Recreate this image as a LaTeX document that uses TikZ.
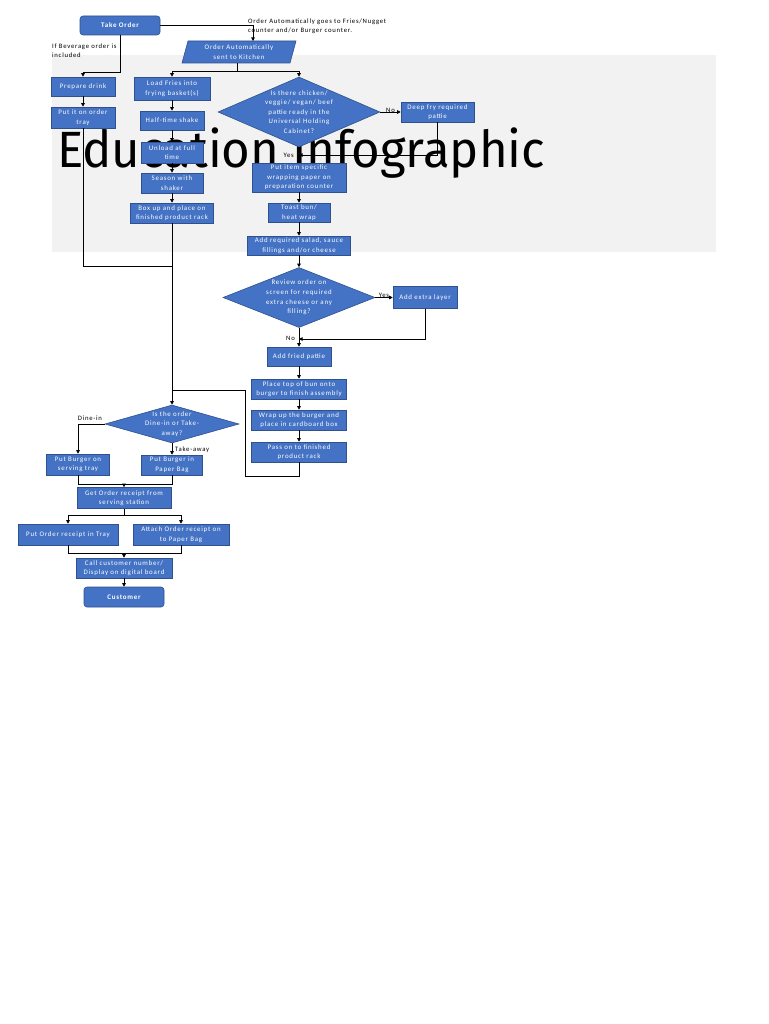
\documentclass[tikz,border=0pt]{standalone}
\usepackage{fontspec}
\setmainfont{Carlito}
\newfontfamily\boxfont[LetterSpace=11]{Carlito}
\newfontfamily\bigfont{Fira Sans}
\usetikzlibrary{arrows.meta,shapes.geometric}
\definecolor{boxblue}{HTML}{4472C4}
\definecolor{boxedge}{HTML}{2F528F}
\definecolor{bggray}{HTML}{F2F2F2}
\begin{document}
\begin{tikzpicture}[x=1pt,y=-1pt,
  box/.style={draw=boxedge, line width=0.6pt, fill=boxblue, text=white,
    font=\boxfont\fontsize{6.9}{9.6}\selectfont, align=center, inner sep=0pt},
  term/.style={box, rounded corners=3pt, font=\boxfont\fontsize{7}{9.6}\selectfont\bfseries},
  dia/.style={diamond, draw=boxedge, line width=0.6pt, fill=boxblue, inner sep=0pt},
  dlab/.style={text=white, font=\boxfont\fontsize{6.9}{9.6}\selectfont, align=center, inner sep=0pt},
  conn/.style={draw=black, line width=0.6pt},
  arr/.style={conn, -{Triangle[length=3.5pt,width=3.5pt]}},
  note/.style={font=\boxfont\fontsize{6.7}{9}\selectfont, align=left, inner sep=0pt, text=black}
]
\useasboundingbox (0,0) rectangle (768,1024);
\fill[white] (0,0) rectangle (768,1024);
\fill[bggray] (52,55) rectangle (716,252);

% big title (behind the diagram)
\node[anchor=base west, inner sep=0pt, text=black] (title) at (57,168)
  {\resizebox{488pt}{\height}{\bigfont\fontsize{51}{51}\selectfont Education Infographic}};

% ---------- nodes ----------
\node[term, minimum width=80pt, minimum height=19pt] (take) at (120,25.5) {Take Order};

\coordinate (ktl) at (188,41);
\coordinate (ktr) at (296,41);
\coordinate (kbr) at (290,63);
\coordinate (kbl) at (182,63);
\fill[boxblue, draw=boxedge, line width=0.6pt] (ktl) -- (ktr) -- (kbr) -- (kbl) -- cycle;
\node[dlab] (kitchen) at (239,52) {Order Automatically\\sent to Kitchen};
\coordinate (kin) at (253,41);
\coordinate (kout) at (237,63);
\coordinate (ksplit) at (237,71);

\node[box, minimum width=64pt, minimum height=19pt] (drink) at (83,86.5) {Prepare drink};
\node[box, minimum width=64pt, minimum height=21pt] (tray) at (83,117.5) {Put it on order\\tray};

\node[box, minimum width=76pt, minimum height=23pt] (fries) at (172,88.5) {Load Fries into\\frying basket(s)};
\node[box, minimum width=64pt, minimum height=19pt] (shake) at (172,120.5) {Half-time shake};
\node[box, minimum width=62pt, minimum height=21pt] (unload) at (172,152.5) {Unload at full\\time};
\node[box, minimum width=62pt, minimum height=20pt] (season) at (172,183) {Season with\\shaker};
\node[box, minimum width=83pt, minimum height=20pt] (boxup) at (172,213) {Box up and place on\\finished product rack};

\node[dia, minimum width=162pt, minimum height=70pt] (d1) at (299,112) {};
\node[dlab] (d1t) at (299,112) {Is there chicken/\\veggie/ vegan/ beef\\pattie ready in the\\Universal Holding\\Cabinet?};
\node[box, minimum width=73pt, minimum height=20pt] (deepfry) at (437.5,112) {Deep fry required\\pattie};

\node[box, minimum width=94pt, minimum height=29pt] (wrap) at (299,177.5) {Put item specific\\wrapping paper on\\preparation counter};
\node[box, minimum width=62pt, minimum height=19pt] (toast) at (299,212.5) {Toast bun/\\heat wrap};
\node[box, minimum width=103pt, minimum height=19pt] (salad) at (299,245.5) {Add required salad, sauce\\fillings and/or cheese};

\node[dia, minimum width=152pt, minimum height=60pt] (d2) at (299,297.5) {};
\node[dlab] (d2t) at (299,297.5) {Review order on\\screen for required\\extra cheese or any\\filling?};
\node[box, minimum width=64pt, minimum height=22pt] (extra) at (425,297.5) {Add extra layer};

\node[box, minimum width=64pt, minimum height=19pt] (fried) at (299,356.5) {Add fried pattie};
\node[box, minimum width=95pt, minimum height=20pt] (bun) at (299,389) {Place top of bun onto\\burger to finish assembly};
\node[box, minimum width=95pt, minimum height=20pt] (wrapup) at (299,420) {Wrap up the burger and\\place in cardboard box};
\node[box, minimum width=95pt, minimum height=20pt] (pass) at (299,452) {Pass on to finished\\product rack};

\node[dia, minimum width=134pt, minimum height=38pt] (d3) at (172,424) {};
\node[dlab] (d3t) at (172,424) {Is the order\\Dine-in or Take-\\away?};

\node[box, minimum width=63pt, minimum height=21pt] (servtray) at (78,464.5) {Put Burger on\\serving tray};
\node[box, minimum width=61pt, minimum height=20pt] (paperbag) at (172,465) {Put Burger in\\Paper Bag};
\node[box, minimum width=94pt, minimum height=21pt] (getrec) at (124,498) {Get Order receipt from\\serving station};
\node[box, minimum width=100pt, minimum height=21pt] (rectray) at (68,534.5) {Put Order receipt in Tray};
\node[box, minimum width=96pt, minimum height=21pt] (attach) at (181,534.5) {Attach Order receipt on\\to Paper Bag};
\node[box, minimum width=96pt, minimum height=20pt] (call) at (124,568) {Call customer number/\\Display on digital board};
\node[term, minimum width=80pt, minimum height=20pt] (customer) at (124,597) {Customer};

% ---------- notes ----------
\node[note, anchor=north west] (n1) at (248,19) {Order Automatically goes to Fries/Nugget\\counter and/or Burger counter.};
\node[note, anchor=north west] (n2) at (52,44) {If Beverage order is\\included};

% ---------- coordinates for joins ----------
\coordinate (j1) at (172,266);
\coordinate (j2) at (172,390);
\coordinate (yesj) at (299,155);
\coordinate (noj) at (299,339);
\coordinate (pr1) at (299,476);
\coordinate (pr2) at (245,476);
\coordinate (pr3) at (245,390);
\coordinate (m1) at (124,484);
\coordinate (s2) at (124,515);
\coordinate (m2) at (124,553);

% ---------- connectors ----------
\draw[arr] (take.east) -| (kin);
\draw[arr] (take.south) -- ++(0,37) -| (drink.north);
\draw[arr] (drink) -- (tray);
\draw[conn] (tray.south) |- (j1);

\draw[conn] (kout) -- (ksplit);
\draw[arr] (ksplit) -| (fries.north);
\draw[arr] (ksplit) -| (d1.north);

\draw[arr] (fries) -- (shake);
\draw[arr] (shake) -- (unload);
\draw[arr] (unload) -- (season);
\draw[arr] (season) -- (boxup);
\draw[arr] (boxup.south) -- (d3.north);

\draw[arr] (d1.east) -- (deepfry.west) node[midway, above, note, yshift=-1pt] (nolab1) {No};
\draw[arr] (d1.south) -- (wrap.north);
\node[note, anchor=east] (yeslab1) at (294,155) {Yes};
\draw[arr] (deepfry.south) |- (yesj);

\draw[arr] (wrap) -- (toast);
\draw[arr] (toast) -- (salad);
\draw[arr] (salad.south) -- (d2.north);

\draw[arr] (d2.east) -- (extra.west) node[midway, above, note] (yeslab2) {Yes};
\draw[arr] (extra.south) |- (noj);
\draw[arr] (d2.south) -- (fried.north);
\node[note, anchor=east] (nolab2) at (295,338) {No};

\draw[arr] (fried) -- (bun);
\draw[arr] (bun) -- (wrapup);
\draw[arr] (wrapup) -- (pass);
\draw[conn] (pass.south) -- (pr1) -- (pr2) -- (pr3) -- (j2);

\draw[arr] (d3.west) -| (servtray.north);
\node[note, anchor=south] (dinelab) at (90,421) {Dine-in};
\draw[arr] (d3.south) -- (paperbag.north);
\node[note, anchor=west] (takelab) at (175,450) {Take-away};

\draw[conn] (servtray.south) |- (m1);
\draw[conn] (paperbag.south) |- (m1);
\draw[arr] (m1) -- (getrec.north);

\draw[conn] (getrec.south) -- (s2);
\draw[arr] (s2) -| (rectray.north);
\draw[arr] (s2) -| (attach.north);

\draw[conn] (rectray.south) |- (m2);
\draw[conn] (attach.south) |- (m2);
\draw[arr] (m2) -- (call.north);
\draw[arr] (call) -- (customer);
\end{tikzpicture}
\end{document}
